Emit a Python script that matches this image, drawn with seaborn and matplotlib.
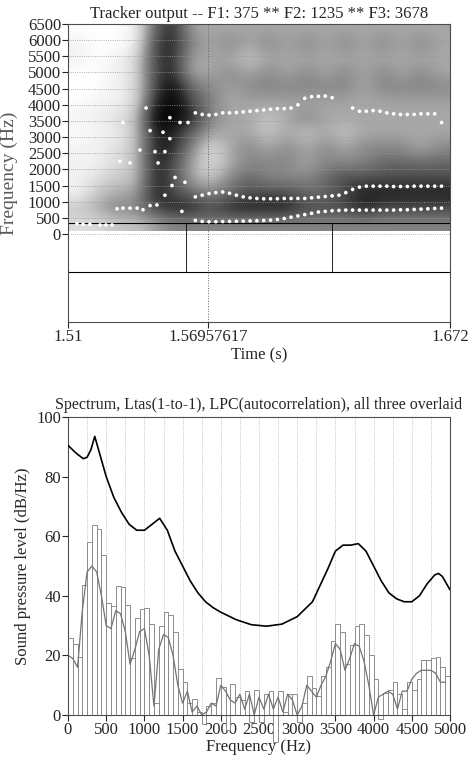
import numpy as np
import matplotlib
matplotlib.use("Agg")
import matplotlib.pyplot as plt
import seaborn as sns

# ---------------- data ----------------
spec_rows = [  # 6500 Hz (top) down to 0 Hz, darkness 0-9, 20 time columns
    "00016844444444444444",
    "10017854545454545454",
    "10127844434444444444",
    "00127844545454545454",
    "00127965455555545555",
    "01128975444444444444",
    "11239985443454444444",
    "01138864443434344444",
    "11238852454545455545",
    "11238742455545556666",
    "12338743565556777777",
    "13448765677766788888",
    "34557887888877787777",
    "22334555555555555555",
]
frame_t = [1.5640,1.5669,1.5698,1.5727,1.5756,1.5785,1.5814,1.5843,1.5872,1.5901,1.5930,1.5959,
           1.5988,1.6017,1.6046,1.6075,1.6104,1.6133,1.6162,1.6191,1.6220,1.6249,1.6278,1.6307,
           1.6336,1.6365,1.6394,1.6423,1.6452,1.6481,1.6510,1.6539,1.6568,1.6597,1.6626,1.6655,1.6684]
F1 = [420,390,380,380,385,390,395,400,405,410,420,430,450,480,520,560,600,640,680,700,720,730,
      740,740,740,740,740,740,740,740,750,750,760,770,780,790,800]
F2 = [1150,1200,1250,1280,1300,1260,1200,1150,1120,1100,1090,1090,1090,1100,1100,1100,1100,1120,
      1140,1160,1180,1200,1280,1380,1450,1480,1480,1480,1480,1470,1470,1470,1480,1480,1480,1480,1480]
F3 = [3750,3700,3680,3700,3750,3750,3760,3780,3800,3820,3840,3860,3880,3880,3900,4000,4200,4250,
      4260,4270,4220,np.nan,np.nan,3900,3800,3800,3820,3800,3750,3720,3700,3700,3700,3720,3720,3720,3450]
early_t = [1.5138,1.5164,1.5193,1.5236,1.5261,1.5287,1.5308,1.5333,1.5363,1.5393,1.5418,1.5448,1.5477,
           1.5320,1.5363,1.5333,1.5405,1.5431,1.5448,1.5469,1.5482,1.5503,1.5511,1.5511,1.5532,1.5532,
           1.5541,1.5554,1.5575,1.5583,1.5596,1.5609]
early_f = [320,300,300,280,280,280,780,800,800,800,750,880,900,
           2250,2200,3450,2600,3900,3200,2550,2200,3150,2550,1200,3600,2950,
           1500,1750,3450,700,1600,3450]
tier_boundaries = [1.5600, 1.6219]

ltas_db = [26,23.7,19.5,43.5,58,63.7,62.5,53.8,
           37.5,36.6,43.4,43,37,19,32.5,35.7,
           36,30.5,4,30,34.7,33.4,28,15.3,
           11,4,5.5,1,-3,3,4,12.5,
           9.5,-5,10.5,6,5,8,-2.5,8.5,
           -2.5,7,8,-9,8,1,7,7,
           -2.5,4,13,9,6.5,13,16,25,
           30.5,28,17,23.5,30,30.5,27,20,
           12,-1.5,7.5,8.5,11,7,2,11,
           8.5,12,18.5,18.5,19,19.5,16,13]
ltas_bin_hz = 62.5
spec_db = [20,19,16,35,48,50,48,40,30,29,35,34,28,17,22,28,29,20,3,22,27,26,20,10,
           4,8,1,3,0,1,4,3,10,8,5,4,7,2,7,0,6,2,7,2,6,1,7,5,0,3,10,8,6,10,13,18,24,
           22,15,19,24,23,18,10,0,6,7,8,7,2,8,8,12,14,15,15,15,14,11,11]
lpc_f = [0,100,200,250,300,350,400,500,600,700,800,900,1000,1100,1200,1300,1400,1500,1600,1700,1800,
         1900,2000,2200,2400,2600,2800,3000,3200,3400,3500,3600,3700,3800,3900,4000,4100,4200,4300,
         4400,4500,4600,4700,4800,4850,4900,5000]
lpc_db = [90.5,88,86,86.5,89,93.5,89,80,73,68,64,62,62,64,66,62,55,50,45,41,38,
          36,34.5,32,30.3,29.8,30.5,33,38,49,55,57,57,57.5,55,50,45,41,39,
          38,38,40,44,47,47.5,46.5,42]

# ---------------- figure ----------------
sns.set_style("white")
plt.rcParams['font.family'] = ['Liberation Serif', 'DejaVu Serif']
plt.rcParams['font.size'] = 12
fig = plt.figure(figsize=(4.74, 7.61), dpi=100)

# top panel
ax1 = fig.add_axes([68/474, 1-322/761, 382/474, 298/761])
img = np.array([[int(c) for c in r] for r in spec_rows], dtype=float) / 9.0
ax1.imshow(img, cmap="Greys", vmin=0, vmax=1, aspect="auto", interpolation="bicubic",
           extent=[1.51, 1.672, 100, 6600], zorder=0)
for f in range(500, 7000, 500):
    ax1.axhline(f, color="0.6", lw=0.6, ls=":", zorder=1)
ax1.axhline(0, color="0.6", lw=0.6, ls=":", zorder=1)
ax1.axvline(1.56957617, color="0.4", lw=0.7, ls=":", zorder=3)
ax1.axhline(350, color="black", lw=0.8, zorder=2)
ax1.axhline(-1176, color="black", lw=0.8, zorder=2)
for tb in tier_boundaries:
    ax1.plot([tb, tb], [350, -1176], color="black", lw=0.6)
for F in (F1, F2, F3):
    sns.scatterplot(x=frame_t, y=F, ax=ax1, color="white", s=7, edgecolor="none", zorder=4)
sns.scatterplot(x=early_t, y=early_f, ax=ax1, color="white", s=7, edgecolor="none", zorder=4)
ax1.set_xlim(1.51, 1.672)
ax1.set_ylim(-2724, 6500)
ax1.set_yticks(range(0, 7000, 500))
ax1.set_xticks([1.51, 1.56957617, 1.672])
ax1.set_xticklabels(["1.51", "1.56957617", "1.672"])
ax1.tick_params(direction="out", length=4, left=True, bottom=True, labelsize=12, pad=1)
ax1.yaxis.set_label_coords(-0.13, 0.72)
ax1.set_ylabel("Frequency (Hz)", fontsize=14, color="0.35")
ax1.set_xlabel("Time (s)", fontsize=12, labelpad=2)
ax1.set_title("Tracker output -- F1: 375 ** F2: 1235 ** F3: 3678", fontsize=12, pad=4)
for s in ax1.spines.values():
    s.set_color("0.3"); s.set_linewidth(0.8)

# bottom panel
ax2 = fig.add_axes([68/474, 1-715/761, 382/474, 298/761])
for f in range(250, 5000, 250):
    ax2.axvline(f, color="0.7", lw=0.6, ls=":", zorder=0)
centers = [ltas_bin_hz * (i + 0.5) for i in range(len(ltas_db))]
ax2.bar(centers, ltas_db, width=ltas_bin_hz, color="white", edgecolor="0.55", lw=0.7,
        zorder=1, clip_on=False)
spec_x = [ltas_bin_hz * i for i in range(len(spec_db))]
sns.lineplot(x=spec_x, y=spec_db, ax=ax2, color="0.45", lw=0.9, zorder=2)
sns.lineplot(x=lpc_f, y=lpc_db, ax=ax2, color="black", lw=1.2, zorder=3)
ax2.set_xlim(0, 5000)
ax2.set_ylim(0, 100)
ax2.set_xticks(range(0, 5001, 500))
ax2.set_yticks(range(0, 101, 20))
ax2.tick_params(direction="out", length=4, left=True, bottom=True, labelsize=12, pad=1)
ax2.set_xlabel("Frequency (Hz)", fontsize=12, labelpad=1)
ax2.set_ylabel("Sound pressure level (dB/Hz)", fontsize=12)
ax2.set_title("Spectrum, Ltas(1-to-1), LPC(autocorrelation), all three overlaid", fontsize=11.5, pad=6)
for s in ax2.spines.values():
    s.set_color("0.3"); s.set_linewidth(0.8)

fig.savefig("out.png", dpi=100)
